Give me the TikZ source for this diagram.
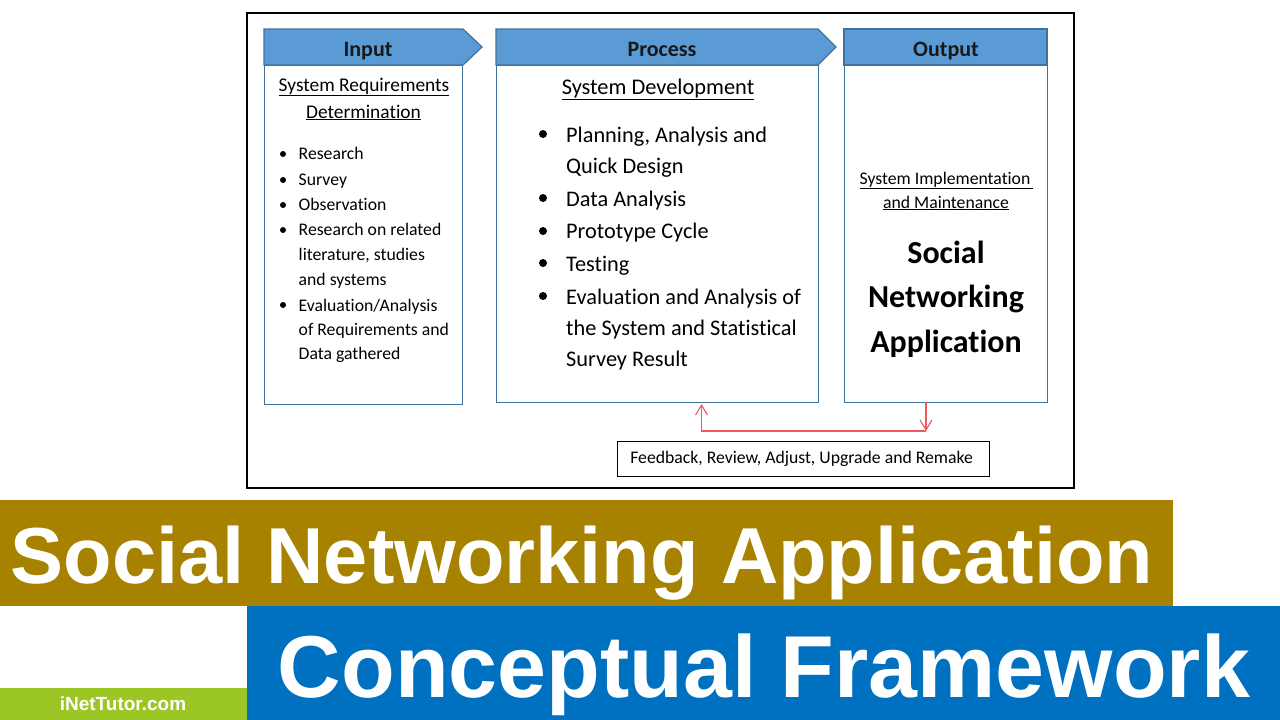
\documentclass[tikz,border=0pt]{standalone}
\usepackage{fontspec}
\setmainfont[RawFeature={-liga;-clig;-dlig}]{Carlito}
\newfontfamily\titlefont{Liberation Sans}
\usetikzlibrary{arrows.meta}
\definecolor{headblue}{HTML}{5B9BD5}
\definecolor{edgeblue}{HTML}{41719C}
\definecolor{bandgold}{HTML}{A68200}
\definecolor{bandblue}{HTML}{0070C0}
\definecolor{bandgreen}{HTML}{9BC623}
\definecolor{linkred}{HTML}{F0575F}

\begin{document}
\begin{tikzpicture}[x=1pt,y=-1pt]
		\tikzset{panel/.style={shape = rectangle, draw = edgeblue, line width = 1.2pt, anchor = north west, inner sep = 0pt}}
		\tikzset{head/.style={fill = headblue, draw = edgeblue, line width = 1.2pt}}
		\tikzset{headtext/.style={font = \fontsize{22}{26}\selectfont\bfseries, text = black!90, anchor = base, inner sep = 0pt}}
		\tikzset{inline/.style={font = \fontsize{17.7}{21}\selectfont, anchor = base west, inner sep = 0pt}}
		\tikzset{procline/.style={font = \fontsize{22.3}{27}\selectfont, anchor = base west, inner sep = 0pt}}
		\tikzset{bigline/.style={font = \fontsize{32}{38}\selectfont\bfseries, anchor = base, inner sep = 0pt}}
		\tikzset{link/.style={draw = linkred, line width = 1.1pt, -{Straight Barb[length = 10pt, width = 12pt]}}}
		\tikzset{band/.style={anchor = north west, inner sep = 0pt, minimum height = 0pt}}
		\useasboundingbox (0, 0) rectangle (1280, 720);
					%frame
					\node[draw = black, line width = 2pt, anchor = north west, inner sep = 0pt, minimum width = 827pt, minimum height = 475pt] (frame) at (246, 12) {};
					%panels
					\node[panel, minimum width = 198pt, minimum height = 339pt] (inbox) at (264, 65) {};
					\node[panel, minimum width = 322pt, minimum height = 337pt] (procbox) at (496, 65) {};
					\node[panel, minimum width = 203pt, minimum height = 337pt] (outbox) at (844, 65) {};
					%headers
					\draw[head] (264, 29) -- (463, 29) -- (482, 47) -- (463, 65) -- (264, 65) -- cycle;
					\draw[head] (496, 29) -- (818, 29) -- (836, 47) -- (818, 65) -- (496, 65) -- cycle;
					\draw[head] (844, 29) -- (1047, 29) -- (1047, 65) -- (844, 65) -- cycle;
					\node[headtext] (inhead) at (368, 56) {Input};
					\node[headtext] (prochead) at (662, 56) {Process};
					\node[headtext] (outhead) at (946, 56) {Output};
					%input text
					\node[font = \fontsize{19.4}{23}\selectfont, inner sep = 0pt, anchor = base] (inta) at (364, 91) {\underline{System Requirements}};
					\node[font = \fontsize{19.4}{23}\selectfont, inner sep = 0pt, anchor = base] (intb) at (363.5, 118) {\underline{Determination}};
					\foreach \y/\t in {159.5/Research, 185.5/Survey, 210.5/Observation, 235.5/Research on related, 260.5/literature{,} studies, 285.5/and systems, 311/{Evaluation/Analysis}, 335.5/of Requirements and, 359.5/Data gathered}
						\node[inline] at (298.5, \y) {\t};
					\foreach \y in {154, 180, 205, 230, 305}
						\fill (283, \y) circle (3pt);
					%process text
					\node[font = \fontsize{22.4}{27}\selectfont, inner sep = 0pt, anchor = base] (proctitle) at (658, 94) {\underline{System Development}};
					\foreach \y/\t in {142/{Planning, Analysis and}, 173/Quick Design, 206/Data Analysis, 238/Prototype Cycle, 271/Testing, 304/Evaluation and Analysis of, 335/the System and Statistical, 366/Survey Result}
						\node[procline] at (566, \y) {\t};
					\foreach \y in {134, 198, 231, 263, 296}
						\fill (543, \y) circle (4pt);
					%output text
					\node[font = \fontsize{17.7}{21}\selectfont, inner sep = 0pt, anchor = base] (outa) at (946.5, 184) {\underline{System Implementation\,}};
					\node[font = \fontsize{17.7}{21}\selectfont, inner sep = 0pt, anchor = base] (outb) at (946, 208) {\underline{and Maintenance}};
					\node[bigline] (outc) at (946, 263) {Social};
					\node[bigline] (outd) at (946, 307) {Networking};
					\node[bigline] (oute) at (946, 352) {Application};
					%feedback
					\node[draw = black, line width = 1.2pt, anchor = north west, minimum width = 372pt, minimum height = 35pt, inner sep = 0pt, font = \fontsize{17.7}{21}\selectfont] (feedback) at (617, 441) {Feedback, Review, Adjust, Upgrade and Remake\hspace{4pt}\null};
					\coordinate (outfoot) at (926, 402);
					\coordinate (turnright) at (926, 431);
					\coordinate (turnleft) at (701.5, 431);
					\coordinate (procfoot) at (701.5, 404);
					%edges
					\draw[link] (outfoot) -- (turnright);
					\draw[link] (turnright) -- (turnleft) -- (procfoot);
					%bands
					\node[band, fill = bandgold, minimum width = 1173pt, minimum height = 106pt] (bandtop) at (0, 500) {};
					\node[band, fill = bandblue, minimum width = 1033pt, minimum height = 114pt] (bandlow) at (247, 606) {};
					\node[band, fill = bandgreen, minimum width = 247pt, minimum height = 32pt] (bandtag) at (0, 688) {};
					\node[font = \fontsize{79.4}{90}\selectfont\titlefont\bfseries, text = white, inner sep = 0pt, anchor = base] (titlea) at (582, 583) {Social Networking Application};
					\node[font = \fontsize{87.9}{100}\selectfont\titlefont\bfseries, text = white, inner sep = 0pt, anchor = base] (titleb) at (764, 697) {Conceptual Framework};
					\node[font = \fontsize{19}{23}\selectfont\titlefont\bfseries, text = white, inner sep = 0pt] (tagtext) at (123, 704) {iNetTutor.com};
\end{tikzpicture}
\end{document}
